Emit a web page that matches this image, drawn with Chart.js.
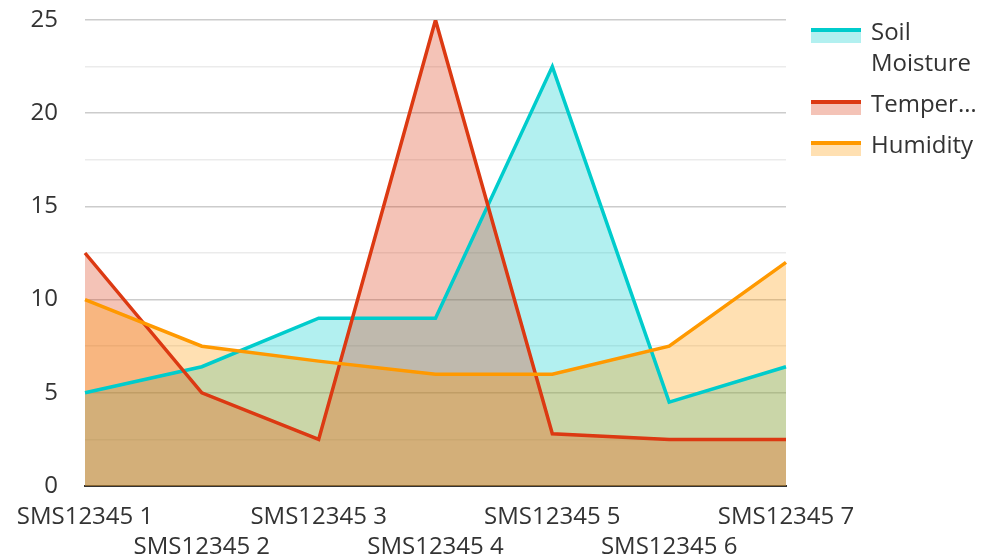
<!DOCTYPE html>
<html>
<head>
<meta charset="utf-8">
<script src="https://cdn.jsdelivr.net/npm/chart.js@4.4.1/dist/chart.umd.min.js"></script>
<style>
  body { margin: 0; background: #fff; font-family: "Open Sans", sans-serif; }
  #wrap { position: relative; width: 981px; height: 560px; }
  #legend { position: absolute; left: 811px; top: 15px; }
  .item { display: flex; align-items: flex-start; margin-bottom: 10px; }
  .swatch { width: 50px; height: 15px; margin-top: 13px; margin-right: 10px; box-sizing: border-box; }
  .txt { width: 106px; font-size: 24px; line-height: 31px; color: #333; overflow: hidden; text-overflow: ellipsis; }
</style>
</head>
<body>
<div id="wrap">
  <canvas id="chart" width="981" height="560"></canvas>
  <div id="legend"></div>
</div>
<script>
// chart data
const categories = ["SMS12345 1", "SMS12345 2", "SMS12345 3", "SMS12345 4", "SMS12345 5", "SMS12345 6", "SMS12345 7"];
const seriesNames = ["Soil Moisture", "Temperature", "Humidity"];
const soilMoisture = [5, 6.4, 9, 9, 22.5, 4.5, 6.4];
const temperature = [12.5, 5, 2.5, 25, 2.8, 2.5, 2.5];
const humidity = [10, 7.5, 6.7, 6, 6, 7.5, 12];
const yTicks = [0, 5, 10, 15, 20, 25];

const lineColors = ["#00cccc", "#dc3912", "#ff9900"];
const fillColors = ["rgba(0,204,204,0.3)", "rgba(220,57,18,0.3)", "rgba(255,153,0,0.3)"];
const values = [soilMoisture, temperature, humidity];

// higher order is painted first, so humidity ends up on top
const datasets = seriesNames.map((name, i) => ({
  label: name,
  data: values[i],
  borderColor: lineColors[i],
  backgroundColor: fillColors[i],
  borderWidth: 3.5,
  fill: "origin",
  tension: 0,
  pointRadius: 0,
  order: seriesNames.length - i
}));

Chart.defaults.font.family = "'Open Sans', sans-serif";
Chart.defaults.font.size = 24;
Chart.defaults.color = "#333";

new Chart(document.getElementById("chart"), {
  type: "line",
  data: { labels: categories, datasets: datasets },
  options: {
    responsive: false,
    animation: false,
    layout: { padding: { left: 0, right: 195, top: 20, bottom: 0 } },
    plugins: {
      legend: { display: false },
      tooltip: { enabled: false },
      filler: { drawTime: "beforeDatasetsDraw" }
    },
    scales: {
      x: {
        offset: false,
        grid: { display: false, drawTicks: false },
        border: { color: "#333", width: 2 },
        afterFit: s => { s.height = 74; },
        ticks: {
          autoSkip: false,
          maxRotation: 0,
          padding: 16,
          font: { lineHeight: 1.25 },
          callback: function (v, i) {
            const lab = categories[i];
            return i % 2 ? ["", lab] : lab;
          }
        }
      },
      y: {
        min: 0,
        max: 25,
        border: { display: false },
        afterFit: s => { s.width = 85; s.paddingTop = 14; s.paddingBottom = 0; },
        grid: {
          drawTicks: false,
          lineWidth: 1.5,
          color: ctx => (yTicks.includes(ctx.tick.value) ? "#cccccc" : "#ebebeb")
        },
        ticks: {
          stepSize: 2.5,
          padding: 27,
          callback: v => (yTicks.includes(v) ? v : "")
        }
      }
    }
  }
});

// legend built from the series
const legend = document.getElementById("legend");
seriesNames.forEach((name, i) => {
  const item = document.createElement("div");
  item.className = "item";
  const sw = document.createElement("div");
  sw.className = "swatch";
  sw.style.background = fillColors[i];
  sw.style.borderTop = "4px solid " + lineColors[i];
  const t = document.createElement("div");
  t.className = "txt";
  t.textContent = name;
  item.appendChild(sw);
  item.appendChild(t);
  legend.appendChild(item);
});
</script>
</body>
</html>
